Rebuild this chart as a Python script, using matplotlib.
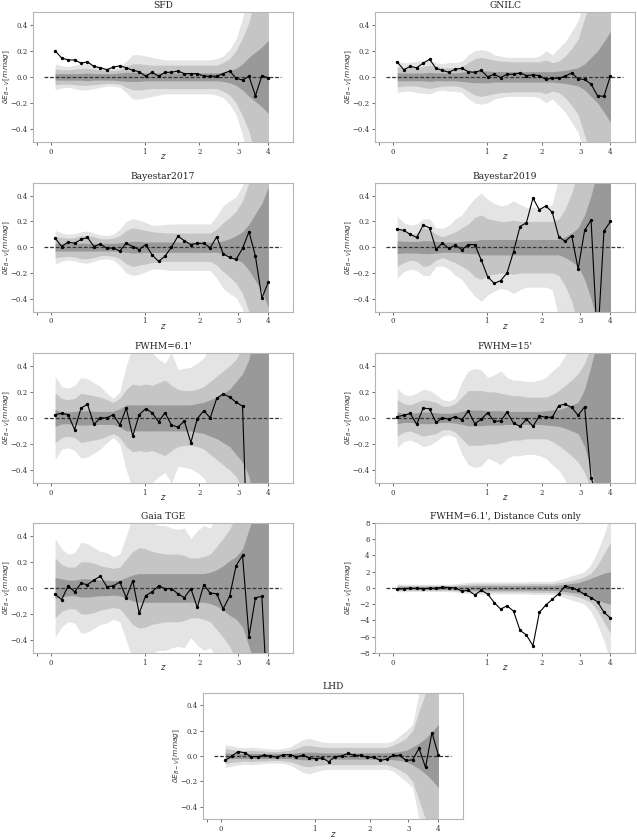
import matplotlib
matplotlib.use("Agg")
import matplotlib.pyplot as plt
import numpy as np

plt.rcParams['font.family'] = ['DejaVu Serif']
plt.rcParams['mathtext.fontset'] = 'dejavusans'

# redshift bins (shared by all panels)
z = [0.030, 0.081, 0.134, 0.190, 0.248, 0.309, 0.373, 0.440, 0.511, 0.585,
     0.663, 0.744, 0.830, 0.920, 1.014, 1.112, 1.216, 1.324, 1.438, 1.558,
     1.683, 1.815, 1.953, 2.098, 2.249, 2.409, 2.576, 2.751, 2.935, 3.128,
     3.330, 3.542, 3.764, 4.000]

# SFD
sfd_y = [0.20, 0.145, 0.13, 0.13, 0.105, 0.115, 0.08, 0.07, 0.055, 0.075, 0.085, 0.07, 0.05, 0.04, 0.005, 0.035, 0.005,
         0.035, 0.035, 0.045, 0.025, 0.025, 0.025, 0.005, 0.005, 0.005, 0.025, 0.045, -0.01, -0.025, 0.005, -0.145, 0.01, -0.01]
sfd_s1 = [0.025, 0.025, 0.025, 0.025, 0.025, 0.03, 0.025, 0.025, 0.025, 0.025, 0.03, 0.035, 0.035, 0.035, 0.03, 0.03, 0.03,
          0.03, 0.03, 0.03, 0.03, 0.03, 0.03, 0.03, 0.03, 0.03, 0.035, 0.045, 0.065, 0.10, 0.15, 0.19, 0.23, 0.28]
sfd_s2 = [0.06, 0.055, 0.055, 0.06, 0.065, 0.065, 0.06, 0.055, 0.05, 0.05, 0.055, 0.08, 0.10, 0.10, 0.095, 0.09, 0.09,
          0.09, 0.09, 0.09, 0.09, 0.09, 0.09, 0.09, 0.09, 0.09, 0.11, 0.14, 0.20, 0.30, 0.42, 0.60, 0.80, 1.00]
sfd_s3 = [0.10, 0.085, 0.08, 0.09, 0.10, 0.10, 0.09, 0.08, 0.07, 0.07, 0.08, 0.12, 0.17, 0.17, 0.16, 0.15, 0.14,
          0.13, 0.13, 0.13, 0.13, 0.13, 0.13, 0.13, 0.13, 0.14, 0.16, 0.21, 0.29, 0.45, 0.65, 0.90, 1.10, 1.30]

# GNILC
gn_y = [0.115, 0.055, 0.08, 0.07, 0.105, 0.135, 0.065, 0.05, 0.035, 0.06, 0.065, 0.04, 0.035, 0.05, 0.0, 0.02, -0.005,
        0.02, 0.02, 0.03, 0.01, 0.015, 0.01, -0.02, -0.01, -0.01, 0.005, 0.03, -0.015, -0.02, -0.055, -0.145, -0.15, 0.01]
gn_s1 = [0.03, 0.03, 0.03, 0.03, 0.03, 0.035, 0.03, 0.03, 0.03, 0.03, 0.035, 0.04, 0.045, 0.045, 0.045, 0.04, 0.04,
         0.04, 0.04, 0.04, 0.04, 0.04, 0.04, 0.04, 0.04, 0.045, 0.05, 0.06, 0.07, 0.10, 0.15, 0.20, 0.27, 0.35]
gn_s2 = [0.077, 0.07, 0.07, 0.07, 0.08, 0.09, 0.08, 0.07, 0.07, 0.07, 0.08, 0.11, 0.14, 0.15, 0.14, 0.13, 0.12,
         0.12, 0.115, 0.115, 0.115, 0.115, 0.115, 0.13, 0.11, 0.12, 0.16, 0.22, 0.29, 0.45, 0.60, 0.80, 1.00, 1.20]
gn_s3 = [0.12, 0.11, 0.11, 0.12, 0.125, 0.13, 0.11, 0.10, 0.11, 0.11, 0.12, 0.17, 0.20, 0.21, 0.20, 0.17, 0.16,
         0.15, 0.15, 0.15, 0.15, 0.15, 0.16, 0.20, 0.17, 0.22, 0.27, 0.35, 0.43, 0.60, 0.80, 1.00, 1.20, 1.40]

# Bayestar2017
b17_y = [0.07, 0.005, 0.04, 0.03, 0.06, 0.075, 0.005, 0.025, -0.01, -0.005, -0.03, 0.03, 0.005, -0.02, 0.02, -0.06, -0.11,
         -0.07, 0.0, 0.085, 0.05, 0.02, 0.03, 0.03, -0.005, 0.08, -0.05, -0.08, -0.095, -0.01, 0.12, -0.07, -0.395, -0.27]
b17_s1 = [0.03, 0.03, 0.03, 0.03, 0.03, 0.03, 0.03, 0.03, 0.03, 0.03, 0.035, 0.04, 0.045, 0.045, 0.04, 0.04, 0.04,
          0.04, 0.04, 0.04, 0.04, 0.04, 0.04, 0.04, 0.04, 0.04, 0.05, 0.065, 0.09, 0.12, 0.18, 0.26, 0.34, 0.47]
b17_s2 = [0.08, 0.075, 0.07, 0.075, 0.09, 0.09, 0.08, 0.065, 0.065, 0.07, 0.09, 0.13, 0.15, 0.14, 0.13, 0.12, 0.115,
          0.11, 0.11, 0.11, 0.11, 0.11, 0.11, 0.11, 0.11, 0.14, 0.19, 0.23, 0.28, 0.36, 0.50, 0.65, 0.80, 1.00]
b17_s3 = [0.13, 0.11, 0.10, 0.105, 0.12, 0.125, 0.11, 0.095, 0.09, 0.10, 0.14, 0.20, 0.22, 0.21, 0.19, 0.17, 0.17,
          0.175, 0.18, 0.18, 0.18, 0.18, 0.18, 0.18, 0.18, 0.24, 0.32, 0.36, 0.39, 0.48, 0.70, 0.90, 1.10, 1.30]

# Bayestar2019
b19_y = [0.14, 0.13, 0.10, 0.075, 0.17, 0.15, -0.015, 0.03, -0.01, 0.015, -0.02, 0.02, 0.02, -0.10, -0.23, -0.28, -0.26,
         -0.20, -0.035, 0.16, 0.19, 0.38, 0.29, 0.32, 0.27, 0.08, 0.045, 0.09, -0.17, 0.13, 0.21, -0.75, 0.125, 0.20]
b19_s1 = [0.05, 0.045, 0.045, 0.045, 0.05, 0.05, 0.045, 0.04, 0.04, 0.04, 0.045, 0.05, 0.05, 0.06, 0.06, 0.06, 0.06,
          0.06, 0.06, 0.06, 0.06, 0.06, 0.06, 0.06, 0.06, 0.06, 0.08, 0.11, 0.15, 0.25, 0.40, 0.60, 0.80, 1.00]
b19_s2 = [0.15, 0.12, 0.10, 0.11, 0.15, 0.14, 0.10, 0.08, 0.10, 0.12, 0.15, 0.18, 0.23, 0.25, 0.22, 0.21, 0.20,
          0.20, 0.21, 0.20, 0.20, 0.20, 0.20, 0.20, 0.20, 0.22, 0.30, 0.42, 0.60, 0.70, 0.80, 1.00, 1.20, 1.40]
b19_s3 = [0.24, 0.19, 0.17, 0.18, 0.22, 0.22, 0.15, 0.145, 0.17, 0.22, 0.25, 0.32, 0.38, 0.42, 0.37, 0.34, 0.32,
          0.33, 0.36, 0.33, 0.31, 0.31, 0.31, 0.31, 0.33, 0.55, 0.70, 0.80, 0.90, 1.00, 1.20, 1.40, 1.60, 1.80]

# FWHM=6.1'
f6_y = [0.025, 0.035, 0.025, -0.09, 0.075, 0.105, -0.05, 0.0, 0.0, 0.025, -0.055, 0.075, -0.14, 0.025, 0.07, 0.04, -0.03,
        0.04, -0.055, -0.07, -0.025, -0.19, -0.005, 0.055, 0.0, 0.15, 0.185, 0.16, 0.12, 0.09, -1.4, -1.6, -1.8, -2.0]
f6_s1 = [0.065, 0.045, 0.045, 0.05, 0.055, 0.055, 0.05, 0.05, 0.05, 0.05, 0.07, 0.10, 0.10, 0.10, 0.10, 0.10, 0.10,
         0.10, 0.10, 0.10, 0.10, 0.10, 0.11, 0.12, 0.14, 0.16, 0.19, 0.22, 0.28, 0.34, 0.45, 0.70, 0.90, 1.10]
f6_s2 = [0.19, 0.15, 0.14, 0.15, 0.19, 0.18, 0.17, 0.16, 0.14, 0.12, 0.15, 0.22, 0.26, 0.25, 0.26, 0.25, 0.27,
         0.29, 0.25, 0.22, 0.21, 0.21, 0.22, 0.24, 0.28, 0.32, 0.36, 0.40, 0.45, 0.55, 0.70, 0.90, 1.10, 1.30]
f6_s3 = [0.32, 0.24, 0.23, 0.25, 0.31, 0.30, 0.27, 0.24, 0.19, 0.15, 0.20, 0.40, 0.55, 0.60, 0.55, 0.50, 0.45,
         0.42, 0.50, 0.37, 0.38, 0.39, 0.42, 0.46, 0.55, 0.60, 0.70, 0.80, 0.90, 1.00, 1.20, 1.40, 1.60, 1.80]

# FWHM=15'
f15_y = [0.01, 0.02, 0.035, -0.05, 0.075, 0.07, -0.035, 0.0, -0.01, 0.01, -0.015, 0.055, -0.045, -0.01, 0.04, -0.025,
         -0.025, 0.045, -0.04, -0.065, -0.01, -0.065, 0.015, 0.005, 0.005, 0.095, 0.105, 0.08, 0.02, 0.085, -0.46, -0.6,
         -0.8, -1.0]
f15_s1 = [0.045, 0.035, 0.035, 0.04, 0.045, 0.045, 0.04, 0.035, 0.035, 0.04, 0.05, 0.06, 0.06, 0.06, 0.055, 0.055, 0.055,
          0.05, 0.05, 0.05, 0.05, 0.05, 0.05, 0.055, 0.06, 0.065, 0.08, 0.10, 0.12, 0.22, 0.40, 0.60, 0.80, 1.00]
f15_s2 = [0.14, 0.11, 0.10, 0.12, 0.14, 0.13, 0.12, 0.09, 0.09, 0.11, 0.16, 0.21, 0.21, 0.21, 0.20, 0.20, 0.19,
          0.18, 0.17, 0.17, 0.16, 0.16, 0.16, 0.16, 0.18, 0.21, 0.25, 0.29, 0.34, 0.42, 0.55, 0.70, 0.90, 1.10]
f15_s3 = [0.23, 0.18, 0.17, 0.19, 0.22, 0.21, 0.18, 0.14, 0.13, 0.15, 0.28, 0.36, 0.38, 0.37, 0.31, 0.33, 0.36,
          0.31, 0.29, 0.29, 0.28, 0.28, 0.29, 0.31, 0.36, 0.40, 0.48, 0.60, 0.75, 0.90, 1.10, 1.30, 1.50, 1.70]

# Gaia TGE
gaia_y = [-0.05, -0.09, 0.015, -0.03, 0.035, 0.025, 0.06, 0.09, 0.01, 0.015, 0.045, -0.075, 0.055, -0.195, -0.06, -0.03,
          0.015, -0.005, -0.005, -0.045, -0.075, -0.005, -0.15, 0.025, -0.04, -0.045, -0.16, -0.065, 0.17, 0.25, -0.375,
          -0.075, -0.065, -1.0]
gaia_s1 = [0.08, 0.07, 0.06, 0.06, 0.07, 0.07, 0.065, 0.06, 0.06, 0.055, 0.06, 0.08, 0.10, 0.11, 0.11, 0.11, 0.11,
           0.11, 0.11, 0.11, 0.11, 0.11, 0.11, 0.11, 0.12, 0.14, 0.17, 0.21, 0.24, 0.30, 0.45, 0.60, 0.80, 1.00]
gaia_s2 = [0.23, 0.18, 0.16, 0.16, 0.20, 0.20, 0.19, 0.17, 0.16, 0.15, 0.16, 0.22, 0.28, 0.31, 0.30, 0.28, 0.27,
           0.26, 0.26, 0.26, 0.25, 0.23, 0.23, 0.24, 0.26, 0.32, 0.38, 0.45, 0.55, 0.65, 0.80, 1.00, 1.20, 1.40]
gaia_s3 = [0.38, 0.30, 0.26, 0.27, 0.35, 0.34, 0.31, 0.28, 0.27, 0.24, 0.26, 0.40, 0.55, 0.60, 0.55, 0.50, 0.48,
           0.48, 0.46, 0.45, 0.46, 0.38, 0.44, 0.48, 0.46, 0.55, 0.70, 0.80, 0.90, 1.00, 1.20, 1.40, 1.60, 1.80]

# FWHM=6.1', Distance Cuts only
dc_y = [-0.15, -0.1, -0.05, -0.05, -0.1, -0.05, -0.05, 0.1, 0.05, 0.0, -0.4, -0.3, -0.85, -0.3, -0.75, -1.8, -2.6,
        -2.2, -2.85, -5.2, -5.8, -7.1, -3.0, -2.1, -1.4, -0.7, 0.25, 0.0, -0.3, -0.8, -1.2, -1.7, -3.0, -3.7]
dc_s1 = [0.2, 0.18, 0.18, 0.18, 0.18, 0.18, 0.18, 0.18, 0.18, 0.2, 0.22, 0.25, 0.28, 0.28, 0.28, 0.28, 0.28,
         0.28, 0.28, 0.28, 0.28, 0.3, 0.3, 0.3, 0.3, 0.35, 0.45, 0.55, 0.65, 0.9, 1.2, 1.5, 1.8, 2.0]
dc_s2 = [0.35, 0.3, 0.3, 0.3, 0.3, 0.3, 0.3, 0.3, 0.3, 0.35, 0.4, 0.45, 0.5, 0.5, 0.5, 0.5, 0.5,
         0.5, 0.5, 0.5, 0.5, 0.55, 0.55, 0.55, 0.55, 0.65, 0.75, 0.9, 1.1, 1.4, 1.8, 2.8, 4.2, 5.6]
dc_s3 = [0.5, 0.45, 0.45, 0.45, 0.45, 0.45, 0.45, 0.45, 0.45, 0.5, 0.6, 0.7, 0.75, 0.75, 0.75, 0.75, 0.75,
         0.75, 0.75, 0.75, 0.75, 0.8, 0.8, 0.8, 0.8, 1.0, 1.2, 1.5, 1.7, 2.0, 2.9, 4.5, 6.5, 9.0]

# LHD
lhd_y = [-0.035, 0.0, 0.035, 0.025, -0.005, -0.005, 0.005, 0.0, -0.01, 0.01, 0.01, -0.005, 0.005, -0.015, -0.02, -0.015,
         -0.045, -0.005, 0.0, 0.02, 0.005, 0.005, -0.01, -0.01, -0.035, -0.025, 0.005, 0.005, -0.035, -0.03, 0.06, -0.09,
         0.185, 0.005]
lhd_s1 = [0.025, 0.02, 0.02, 0.02, 0.02, 0.02, 0.02, 0.02, 0.02, 0.02, 0.02, 0.025, 0.03, 0.03, 0.03, 0.025, 0.025,
          0.025, 0.025, 0.025, 0.025, 0.025, 0.025, 0.025, 0.025, 0.025, 0.03, 0.035, 0.045, 0.07, 0.10, 0.14, 0.19, 0.25]
lhd_s2 = [0.06, 0.05, 0.045, 0.04, 0.045, 0.04, 0.04, 0.035, 0.035, 0.04, 0.045, 0.06, 0.08, 0.085, 0.075, 0.07, 0.068,
          0.068, 0.068, 0.068, 0.068, 0.068, 0.068, 0.068, 0.068, 0.068, 0.085, 0.11, 0.14, 0.20, 0.35, 0.50, 0.65, 0.80]
lhd_s3 = [0.09, 0.08, 0.07, 0.065, 0.07, 0.065, 0.06, 0.055, 0.055, 0.06, 0.07, 0.10, 0.13, 0.14, 0.125, 0.11, 0.105,
          0.105, 0.105, 0.105, 0.105, 0.105, 0.105, 0.105, 0.105, 0.105, 0.12, 0.16, 0.20, 0.25, 0.50, 0.70, 0.90, 1.10]

titles = ['SFD', 'GNILC', 'Bayestar2017', 'Bayestar2019', "FWHM=6.1'", "FWHM=15'",
          'Gaia TGE', "FWHM=6.1', Distance Cuts only", 'LHD']

panels = [(sfd_y, sfd_s1, sfd_s2, sfd_s3), (gn_y, gn_s1, gn_s2, gn_s3),
          (b17_y, b17_s1, b17_s2, b17_s3), (b19_y, b19_s1, b19_s2, b19_s3),
          (f6_y, f6_s1, f6_s2, f6_s3), (f15_y, f15_s1, f15_s2, f15_s3),
          (gaia_y, gaia_s1, gaia_s2, gaia_s3), (dc_y, dc_s1, dc_s2, dc_s3),
          (lhd_y, lhd_s1, lhd_s2, lhd_s3)]

# axes rectangles in figure fraction
W = 0.408
rects = [(0.052, 0.831, W, 0.155), (0.589, 0.831, W, 0.155),
         (0.052, 0.629, W, 0.1535), (0.589, 0.629, W, 0.1535),
         (0.052, 0.425, W, 0.155), (0.589, 0.425, W, 0.155),
         (0.052, 0.2226, W, 0.155), (0.589, 0.2226, W, 0.155),
         (0.319, 0.0245, W, 0.151)]

band_colors = ['#e4e4e4', '#c5c5c5', '#999999']
spine_col = '#b5b5b5'

fig = plt.figure(figsize=(6.37, 8.40), dpi=100)
zz = np.array(z)

for i, (title, (y, s1, s2, s3)) in enumerate(zip(titles, panels)):
    ax = fig.add_axes(rects[i])
    ax.set_xscale('function', functions=(np.log1p, np.expm1))
    for s, c in zip([s3, s2, s1], band_colors):
        s = np.array(s)
        ax.fill_between(zz, -s, s, color=c, lw=0, zorder=1)
    ax.plot([-0.05, 4.5], [0, 0], ls='--', color='#333333', lw=0.9, dashes=(3, 1.5), zorder=2)
    ax.plot(zz, y, color='black', lw=0.8, marker='o', ms=1.4, zorder=3)
    ax.set_xlim(-0.125, 5.0)
    if i == 7:
        ax.set_ylim(-8, 8)
        ax.set_yticks([-8, -6, -4, -2, 0, 2, 4, 6, 8])
    else:
        ax.set_ylim(-0.5, 0.5)
        ax.set_yticks([-0.4, -0.2, 0.0, 0.2, 0.4])
    ax.set_xticks([0, 1, 2, 3, 4])
    ax.set_xticks([-0.1], minor=True)
    ax.set_xticklabels(['0', '1', '2', '3', '4'])
    ax.tick_params(axis='both', which='both', labelsize=5.0, length=2.5, width=0.6,
                   colors='#555555', labelcolor='#333333', pad=1.5)
    for sp in ax.spines.values():
        sp.set_color(spine_col)
        sp.set_linewidth(0.8)
    ax.set_title(title, fontsize=6.6, color='#222222', pad=2.5)
    ax.set_xlabel(r'$z$', fontsize=6, color='#333333', labelpad=-2.5)
    ax.set_ylabel(r'$\delta E_{B-V}\,[mmag]$', fontsize=5.3, color='#333333')
    ax.yaxis.set_label_coords(-0.082, 0.5)

fig.savefig('out.png', dpi=100)
